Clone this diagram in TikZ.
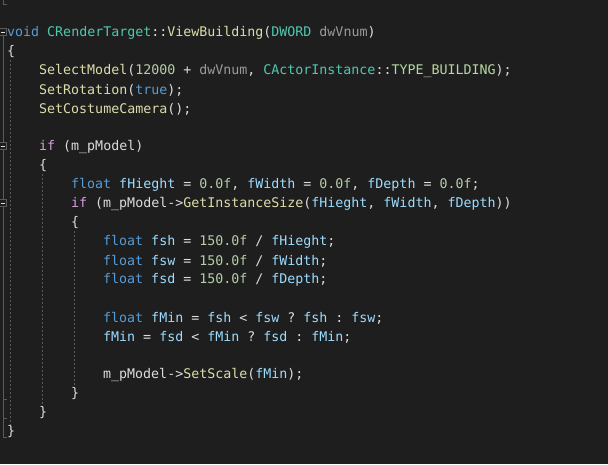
\documentclass[tikz,border=0pt]{standalone}
\usepackage{fontspec}
\setmainfont{DejaVu Sans Mono}[Ligatures=NoCommon]
\frenchspacing
\definecolor{bg}{HTML}{1E1E1E}
\definecolor{tx}{HTML}{DCDCDC}
\definecolor{kw}{HTML}{569CD6}
\definecolor{ctl}{HTML}{D8A0DF}
\definecolor{fn}{HTML}{DCDCAA}
\definecolor{ty}{HTML}{4EC9B0}
\definecolor{nm}{HTML}{B5CEA8}
\definecolor{pr}{HTML}{9A9A9A}
\definecolor{lv}{HTML}{9CDCFE}
\definecolor{en}{HTML}{B8D7A3}
\definecolor{gd}{HTML}{5A5A5A}
\newcommand\cK[1]{\textcolor{kw}{#1}}
\newcommand\cC[1]{\textcolor{ctl}{#1}}
\newcommand\cF[1]{\textcolor{fn}{#1}}
\newcommand\cT[1]{\textcolor{ty}{#1}}
\newcommand\cN[1]{\textcolor{nm}{#1}}
\newcommand\cP[1]{\textcolor{pr}{#1}}
\newcommand\cV[1]{\textcolor{lv}{#1}}
\newcommand\cE[1]{\textcolor{en}{#1}}
\tikzset{ln/.style={anchor=west,inner sep=0pt,text=tx,yshift=-1pt,font=\fontsize{13.3}{16}\selectfont\frenchspacing},
 guide/.style={gd,dash pattern=on 2pt off 2pt,line width=0.8pt},
 fold/.style={draw=gd,fill=bg,minimum size=7pt,inner sep=0pt,line width=0.6pt}}
\begin{document}
\begin{tikzpicture}[x=1pt,y=-1pt]
\fill[bg] (0,0) rectangle (608,464);
\useasboundingbox (0,0) rectangle (608,464);
% guides
\draw[gd,line width=0.8pt] (3,0) -- (3,4) -- (7,4);
\draw[gd,line width=0.8pt] (3,36) -- (3,437) -- (7,437);
\draw[gd,line width=0.8pt] (3,150) -- (3,418) -- (7,418);
\draw[gd,line width=0.8pt] (3,207) -- (3,399) -- (7,399);
\draw[guide] (10,60) -- (10,430);
\draw[guide] (42,174) -- (42,408);
\draw[guide] (74,231) -- (74,388);
\node[fold] (f1) at (3,32) {};
\draw[tx,line width=0.6pt] (0.8,32) -- (5.2,32);
\node[fold] (f2) at (3,146) {};
\draw[tx,line width=0.6pt] (0.8,146) -- (5.2,146);
\node[fold] (f3) at (3,203) {};
\draw[tx,line width=0.6pt] (0.8,203) -- (5.2,203);
% code
\node[ln] (l1) at (7,32) {\cK{void} \cT{CRenderTarget}::\cF{ViewBuilding}(\cT{DWORD} \cP{dwVnum})};
\node[ln] (l2) at (7,51) {\{};
\node[ln] (l3) at (39,70) {\cF{SelectModel}(\cN{12000} + \cP{dwVnum}, \cT{CActorInstance}::\cE{TYPE\_BUILDING});};
\node[ln] (l4) at (39,89) {\cF{SetRotation}(\cK{true});};
\node[ln] (l5) at (39,108) {\cF{SetCostumeCamera}();};
\node[ln] (l6) at (39,146) {\cC{if} (m\_pModel)};
\node[ln] (l7) at (39,165) {\{};
\node[ln] (l8) at (71,184) {\cK{float} \cV{fHieght} = \cN{0.0f}, \cV{fWidth} = \cN{0.0f}, \cV{fDepth} = \cN{0.0f};};
\node[ln] (l9) at (71,203) {\cC{if} (m\_pModel->\cF{GetInstanceSize}(\cV{fHieght}, \cV{fWidth}, \cV{fDepth}))};
\node[ln] (l10) at (71,222) {\{};
\node[ln] (l11) at (103,241) {\cK{float} \cV{fsh} = \cN{150.0f} / \cV{fHieght};};
\node[ln] (l12) at (103,260) {\cK{float} \cV{fsw} = \cN{150.0f} / \cV{fWidth};};
\node[ln] (l13) at (103,279) {\cK{float} \cV{fsd} = \cN{150.0f} / \cV{fDepth};};
\node[ln] (l14) at (103,317) {\cK{float} \cV{fMin} = \cV{fsh} < \cV{fsw} ? \cV{fsh} : \cV{fsw};};
\node[ln] (l15) at (103,336) {\cV{fMin} = \cV{fsd} < \cV{fMin} ? \cV{fsd} : \cV{fMin};};
\node[ln] (l16) at (103,374) {m\_pModel->\cF{SetScale}(\cV{fMin});};
\node[ln] (l17) at (71,393) {\}};
\node[ln] (l18) at (39,412) {\}};
\node[ln] (l19) at (7,431) {\}};
\end{tikzpicture}
\end{document}
